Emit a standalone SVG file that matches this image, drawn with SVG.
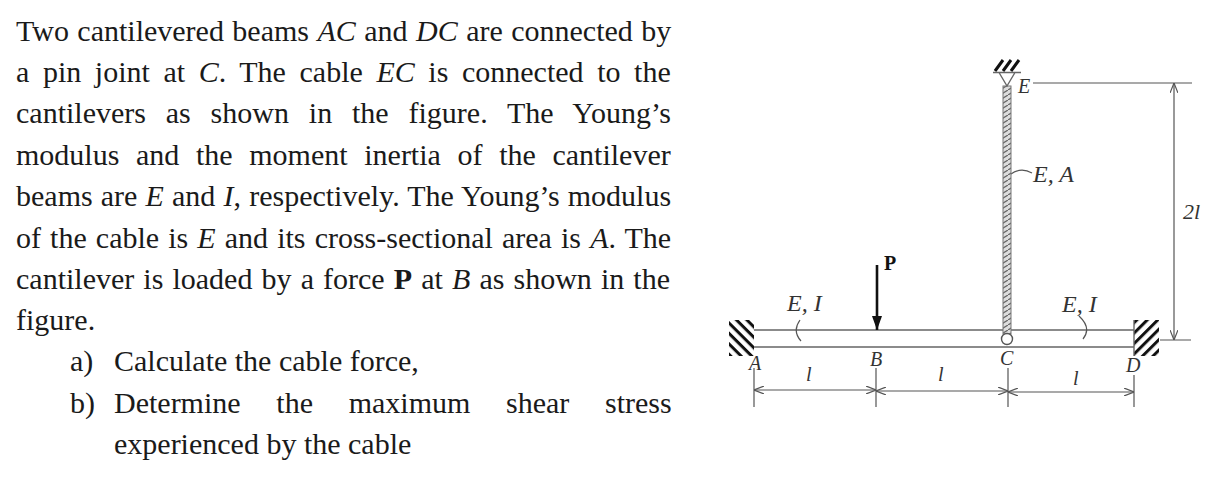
<svg xmlns="http://www.w3.org/2000/svg" width="1228" height="477" viewBox="0 0 1228 477">
<style>
.t{font-family:"Liberation Serif","Times New Roman",serif;font-size:30px;fill:#1a1a1a}
.l{font-family:"Liberation Serif","Times New Roman",serif;font-style:italic;font-size:20px;fill:#333}
.m{font-size:24px}
.i{font-style:italic}
.b{font-weight:bold}
.ln{stroke:#666;stroke-width:1.4;fill:none}
.th{stroke:#555;stroke-width:1.2;fill:none}
.h{stroke:#111;stroke-width:3;fill:none}
</style>
<defs>
<marker id="a" viewBox="0 0 10 8" refX="10" refY="4" markerWidth="10" markerHeight="8" orient="auto-start-reverse" markerUnits="userSpaceOnUse"><path d="M0 0L10 4L0 8" fill="none" stroke="#555" stroke-width="1.2"/></marker>
<marker id="p" viewBox="0 0 14 10" refX="14" refY="5" markerWidth="14" markerHeight="10" orient="auto" markerUnits="userSpaceOnUse"><path d="M0 0L14 5L0 10Z" fill="#111"/></marker>
<pattern id="hc" width="8" height="5" patternUnits="userSpaceOnUse"><rect width="8" height="5" fill="#ddd"/><path d="M-1 5.6L9 -.6" stroke="#666" stroke-width="1.3"/></pattern>
<pattern id="hl" width="7.4" height="7.4" patternUnits="userSpaceOnUse" patternTransform="rotate(45)"><rect width="7.4" height="7.4" fill="#fff"/><rect width="7.4" height="3" fill="#111"/></pattern>
<pattern id="hr" width="7.4" height="7.4" patternUnits="userSpaceOnUse" patternTransform="rotate(-45)"><rect width="7.4" height="7.4" fill="#fff"/><rect width="7.4" height="3" fill="#111"/></pattern>
</defs>
<g id="problem-text">
<text class="t" x="16" y="41" word-spacing="0.95">Two cantilevered beams <tspan class="i">AC</tspan> and <tspan class="i">DC</tspan> are connected by</text>
<text class="t" x="16" y="82" word-spacing="6.1">a pin joint at <tspan class="i">C</tspan>. The cable <tspan class="i">EC</tspan> is connected to the</text>
<text class="t" x="16" y="123" word-spacing="12.35">cantilevers as shown in the figure. The Young’s</text>
<text class="t" x="16" y="165" word-spacing="9.15">modulus and the moment inertia of the cantilever</text>
<text class="t" x="16" y="206" word-spacing="0.65">beams are <tspan class="i">E</tspan> and <tspan class="i">I</tspan>, respectively. The Young’s modulus</text>
<text class="t" x="16" y="248" word-spacing="1.6">of the cable is <tspan class="i">E</tspan> and its cross-sectional area is <tspan class="i">A</tspan>. The</text>
<text class="t" x="16" y="289" word-spacing="1.6">cantilever is loaded by a force <tspan class="b">P</tspan> at <tspan class="i">B</tspan> as shown in the</text>
<text class="t" x="16" y="330">figure.</text>
<text class="t" x="70" y="371">a)</text><text class="t" x="114" y="371">Calculate the cable force,</text>
<text class="t" x="70" y="413">b)</text><text class="t" x="114" y="413" word-spacing="28.2">Determine the maximum shear stress</text>
<text class="t" x="114" y="454">experienced by the cable</text>
</g>
<g id="connectors">
<path class="ln" d="M754 330H1134M754 347H1134"/>
<path class="th" d="M754 368V407M876 368V407M1008 368V407M1134 375V407M1033 83H1192M1160 340H1191"/>
<path class="th" marker-start="url(#a)" marker-end="url(#a)" d="M754 390H876"/>
<path class="th" marker-start="url(#a)" marker-end="url(#a)" d="M876 391H1008"/>
<path class="th" marker-start="url(#a)" marker-end="url(#a)" d="M1008 392H1134"/>
<path class="th" marker-start="url(#a)" marker-end="url(#a)" d="M1174 83V340"/>
<path class="th" d="M800 320Q792 331 801 341M1079 316Q1092 328 1083 339M1011 174Q1021 167 1032 173"/>
<path d="M877 265V330" stroke="#111" stroke-width="2.6" fill="none" marker-end="url(#p)"/>
</g>
<g id="wall-A"><rect x="729" y="320" width="25" height="36" fill="url(#hl)"/></g>
<g id="wall-D"><rect x="1134" y="320" width="25" height="36" fill="url(#hr)"/><path class="ln" d="M1134 320V356"/></g>
<g id="cable-EC"><rect x="1003" y="86" width="8" height="248" fill="url(#hc)" stroke="#777" stroke-width="1"/></g>
<g id="support-E">
<path class="h" d="M995 71L1003 60M1003 71L1011 60M1011 71L1019 60"/>
<path class="ln" d="M993 72.5H1021M999 72.5L1007 86L1015 72.5"/>
</g>
<g id="pin-C"><circle cx="1007" cy="339" r="5.5" fill="#fff" stroke="#555" stroke-width="1.4"/></g>
<g id="labels">
<text class="l" x="1018" y="93">E</text>
<text class="l m" x="1033" y="182">E, A</text>
<text class="l m" x="787" y="311">E, I</text>
<text class="l m" x="1062" y="312">E, I</text>
<text class="l" x="884" y="270" style="font-style:normal;font-weight:bold;fill:#111">P</text>
<text class="l" x="749" y="370">A</text>
<text class="l" x="870" y="366">B</text>
<text class="l" x="1000" y="365">C</text>
<text class="l" x="1126" y="372">D</text>
<text class="l" x="806" y="381">l</text>
<text class="l" x="938" y="381">l</text>
<text class="l" x="1073" y="385">l</text>
<text class="l" x="1183" y="219" style="font-size:22px">2l</text>
</g>
</svg>
